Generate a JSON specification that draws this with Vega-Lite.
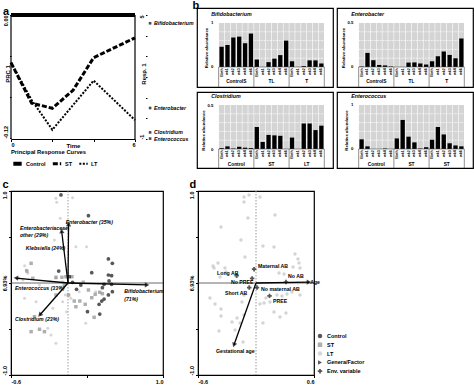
{
"$schema": "https://vega.github.io/schema/vega-lite/v6.json",
"padding": {"left": 1, "top": 0, "right": 0, "bottom": 0},
"config": {
 "font": "Liberation Sans",
 "view": {"stroke": "black", "strokeWidth": 1.2},
 "title": {"fontSize": 11, "fontWeight": "bold", "anchor": "start", "frame": "bounds", "offset": 2, "color": "black"},
 "axis": {"labelFontSize": 5.5, "labelFontWeight": "bold", "titleFontSize": 6, "titleFontWeight": "bold", "labelColor": "black", "titleColor": "black", "tickColor": "black", "domainColor": "black", "tickSize": 2.5, "labelPadding": 1, "grid": false, "labelOverlap": false},
 "legend": {"labelColor": "black", "titleColor": "black"},
 "text": {"color": "black"}
},
"datasets": {
 "prc": [
  {"Time":0,"PRC":0,"Group":"Control"},{"Time":1,"PRC":0,"Group":"Control"},{"Time":2,"PRC":0,"Group":"Control"},{"Time":3,"PRC":0,"Group":"Control"},{"Time":4,"PRC":0,"Group":"Control"},{"Time":6,"PRC":0,"Group":"Control"},
  {"Time":0,"PRC":-0.0465,"Group":"ST"},{"Time":1,"PRC":-0.086,"Group":"ST"},{"Time":2,"PRC":-0.091,"Group":"ST"},{"Time":3,"PRC":-0.0735,"Group":"ST"},{"Time":4,"PRC":-0.0416,"Group":"ST"},{"Time":6,"PRC":-0.0223,"Group":"ST"},
  {"Time":0,"PRC":-0.0465,"Group":"LT"},{"Time":1,"PRC":-0.083,"Group":"LT"},{"Time":2,"PRC":-0.112,"Group":"LT"},{"Time":4,"PRC":-0.064,"Group":"LT"},{"Time":6,"PRC":-0.1026,"Group":"LT"}
 ],
 "resp": [{"Genus":"Bifidobacterium","Resp":4.6},{"Genus":"Enterobacter","Resp":0.5},{"Genus":"Clostridium","Resp":-0.68},{"Genus":"Enterococcus","Resp":-0.98}],
 "bif": [
  {"i":1,"t":"Birth","g":"g1","gl":"ControlS","v":0.46},{"i":2,"t":"wk1","g":"g1","gl":"ControlS","v":0.50},{"i":3,"t":"wk2","g":"g1","gl":"ControlS","v":0.67},{"i":4,"t":"wk3","g":"g1","gl":"ControlS","v":0.69},{"i":5,"t":"wk4","g":"g1","gl":"ControlS","v":0.54},{"i":6,"t":"wk6","g":"g1","gl":"ControlS","v":0.76},
  {"i":7,"t":"Birth","g":"g2","gl":"TL","v":0.17},{"i":8,"t":"wk1","g":"g2","gl":"TL","v":0},{"i":9,"t":"wk2","g":"g2","gl":"TL","v":0.11},{"i":10,"t":"wk3","g":"g2","gl":"TL","v":0.19},{"i":11,"t":"wk4","g":"g2","gl":"TL","v":0.27},{"i":12,"t":"wk6","g":"g2","gl":"TL","v":0.60},
  {"i":13,"t":"Birth","g":"g3","gl":"T","v":0.13},{"i":14,"t":"wk1","g":"g3","gl":"T","v":0},{"i":15,"t":"wk2","g":"g3","gl":"T","v":0.02},{"i":16,"t":"wk3","g":"g3","gl":"T","v":0.15},{"i":17,"t":"wk4","g":"g3","gl":"T","v":0.15},{"i":18,"t":"wk6","g":"g3","gl":"T","v":0.08}
 ],
 "ent": [
  {"i":1,"t":"Birth","g":"g1","gl":"ControlS","v":0.005},{"i":2,"t":"wk1","g":"g1","gl":"ControlS","v":0.16},{"i":3,"t":"wk2","g":"g1","gl":"ControlS","v":0.077},{"i":4,"t":"wk3","g":"g1","gl":"ControlS","v":0.023},{"i":5,"t":"wk4","g":"g1","gl":"ControlS","v":0.018},{"i":6,"t":"wk6","g":"g1","gl":"ControlS","v":0.005},
  {"i":7,"t":"Birth","g":"g2","gl":"TL","v":0},{"i":8,"t":"wk1","g":"g2","gl":"TL","v":0},{"i":9,"t":"wk2","g":"g2","gl":"TL","v":0.05},{"i":10,"t":"wk3","g":"g2","gl":"TL","v":0.052},{"i":11,"t":"wk4","g":"g2","gl":"TL","v":0.04},{"i":12,"t":"wk6","g":"g2","gl":"TL","v":0.028},
  {"i":13,"t":"Birth","g":"g3","gl":"T","v":0.065},{"i":14,"t":"wk1","g":"g3","gl":"T","v":0.122},{"i":15,"t":"wk2","g":"g3","gl":"T","v":0.176},{"i":16,"t":"wk3","g":"g3","gl":"T","v":0.137},{"i":17,"t":"wk4","g":"g3","gl":"T","v":0.099},{"i":18,"t":"wk6","g":"g3","gl":"T","v":0.324}
 ],
 "clo": [
  {"i":1,"t":"Birth","g":"g1","gl":"Control","v":0.01},{"i":2,"t":"wk1","g":"g1","gl":"Control","v":0.03},{"i":3,"t":"wk2","g":"g1","gl":"Control","v":0.005},{"i":4,"t":"wk3","g":"g1","gl":"Control","v":0.025},{"i":5,"t":"wk4","g":"g1","gl":"Control","v":0.015},{"i":6,"t":"wk6","g":"g1","gl":"Control","v":0.01},
  {"i":7,"t":"Birth","g":"g2","gl":"ST","v":0.25},{"i":8,"t":"wk1","g":"g2","gl":"ST","v":0.08},{"i":9,"t":"wk2","g":"g2","gl":"ST","v":0.16},{"i":10,"t":"wk3","g":"g2","gl":"ST","v":0.155},{"i":11,"t":"wk4","g":"g2","gl":"ST","v":0.15},{"i":12,"t":"wk6","g":"g2","gl":"ST","v":0},
  {"i":13,"t":"Birth","g":"g3","gl":"LT","v":0.13},{"i":14,"t":"wk1","g":"g3","gl":"LT","v":0},{"i":15,"t":"wk2","g":"g3","gl":"LT","v":0.29},{"i":16,"t":"wk3","g":"g3","gl":"LT","v":0.29},{"i":17,"t":"wk4","g":"g3","gl":"LT","v":0.215},{"i":18,"t":"wk6","g":"g3","gl":"LT","v":0.265}
 ],
 "enc": [
  {"i":1,"t":"Birth","g":"g1","gl":"Control","v":0.22},{"i":2,"t":"wk1","g":"g1","gl":"Control","v":0.06},{"i":3,"t":"wk2","g":"g1","gl":"Control","v":0},{"i":4,"t":"wk3","g":"g1","gl":"Control","v":0},{"i":5,"t":"wk4","g":"g1","gl":"Control","v":0.01},{"i":6,"t":"wk6","g":"g1","gl":"Control","v":0},
  {"i":7,"t":"Birth","g":"g2","gl":"ST","v":0.24},{"i":8,"t":"wk1","g":"g2","gl":"ST","v":0.66},{"i":9,"t":"wk2","g":"g2","gl":"ST","v":0.28},{"i":10,"t":"wk3","g":"g2","gl":"ST","v":0.15},{"i":11,"t":"wk4","g":"g2","gl":"ST","v":0.01},{"i":12,"t":"wk6","g":"g2","gl":"ST","v":0.04},
  {"i":13,"t":"Birth","g":"g3","gl":"ST","v":0.21},{"i":14,"t":"wk1","g":"g3","gl":"ST","v":0.50},{"i":15,"t":"wk2","g":"g3","gl":"ST","v":0.33},{"i":16,"t":"wk3","g":"g3","gl":"ST","v":0.13},{"i":17,"t":"wk4","g":"g3","gl":"ST","v":0.08},{"i":18,"t":"wk6","g":"g3","gl":"ST","v":0.06}
 ],
 "seps": [{"s":0.5},{"s":6.5},{"s":12.5},{"s":18.5}],
 "grid1": [{"g":0.2},{"g":0.4},{"g":0.6},{"g":0.8}],
 "grid05": [{"g":0.1},{"g":0.2},{"g":0.3},{"g":0.4}],
 "cpts": [
  {"x":-0.127,"y":0.921,"g":"LT"},{"x":0.048,"y":0.927,"g":"LT"},{"x":-0.119,"y":0.877,"g":"LT"},{"x":-0.081,"y":0.703,"g":"LT"},{"x":-0.143,"y":0.467,"g":"LT"},{"x":0.083,"y":0.395,"g":"LT"},{"x":0.195,"y":0.395,"g":"LT"},{"x":-0.457,"y":0.188,"g":"LT"},{"x":-0.44,"y":0.141,"g":"LT"},{"x":-0.423,"y":0.105,"g":"LT"},{"x":-0.517,"y":0.051,"g":"LT"},{"x":-0.475,"y":0.033,"g":"LT"},{"x":-0.457,"y":-0.166,"g":"LT"},{"x":-0.213,"y":-0.492,"g":"LT"},{"x":-0.179,"y":-0.565,"g":"LT"},{"x":-0.127,"y":-0.655,"g":"LT"},{"x":-0.015,"y":-0.312,"g":"LT"},{"x":0.03,"y":-0.166,"g":"LT"},{"x":-0.074,"y":-0.04,"g":"LT"},{"x":-0.056,"y":0.014,"g":"LT"},{"x":0.187,"y":-0.438,"g":"LT"},{"x":-0.127,"y":0.051,"g":"LT"},{"x":-0.028,"y":-0.13,"g":"LT"},{"x":-0.161,"y":-0.275,"g":"LT"},{"x":-0.336,"y":-0.203,"g":"LT"},{"x":-0.056,"y":-0.203,"g":"LT"},{"x":0.118,"y":-0.095,"g":"LT"},{"x":0.292,"y":-0.095,"g":"LT"},{"x":-0.3,"y":-0.022,"g":"LT"},
  {"x":-0.388,"y":0.214,"g":"ST"},{"x":-0.433,"y":0.13,"g":"ST"},{"x":-0.37,"y":0.051,"g":"ST"},{"x":-0.127,"y":0.062,"g":"ST"},{"x":-0.064,"y":0.062,"g":"ST"},{"x":-0.022,"y":0.068,"g":"ST"},{"x":0.041,"y":0.068,"g":"ST"},{"x":0.16,"y":0.008,"g":"ST"},{"x":0.286,"y":-0.123,"g":"ST"},{"x":0.334,"y":-0.101,"g":"ST"},{"x":0.362,"y":-0.116,"g":"ST"},{"x":0.25,"y":-0.16,"g":"ST"},{"x":0.124,"y":-0.196,"g":"ST"},{"x":0.181,"y":-0.232,"g":"ST"},{"x":0.083,"y":-0.258,"g":"ST"},{"x":0.275,"y":-0.373,"g":"ST"},{"x":-0.3,"y":-0.503,"g":"ST"},{"x":-0.248,"y":-0.529,"g":"ST"},{"x":-0.388,"y":-0.529,"g":"ST"},{"x":-0.353,"y":-0.366,"g":"ST"},{"x":-0.127,"y":-0.13,"g":"ST"},{"x":-0.039,"y":-0.022,"g":"ST"},{"x":0.006,"y":-0.13,"g":"ST"},{"x":0.066,"y":-0.196,"g":"ST"},{"x":0.215,"y":-0.076,"g":"ST"},
  {"x":-0.074,"y":0.957,"g":"Control"},{"x":0.215,"y":0.732,"g":"Control"},{"x":-0.098,"y":0.13,"g":"Control"},{"x":0.25,"y":0.112,"g":"Control"},{"x":0.425,"y":0.261,"g":"Control"},{"x":0.467,"y":0.214,"g":"Control"},{"x":0.425,"y":0.087,"g":"Control"},{"x":0.459,"y":0.079,"g":"Control"},{"x":0.432,"y":0.022,"g":"Control"},{"x":0.38,"y":-0.014,"g":"Control"},{"x":0.459,"y":-0.014,"g":"Control"},{"x":0.362,"y":-0.051,"g":"Control"},{"x":0.467,"y":-0.095,"g":"Control"},{"x":0.425,"y":-0.13,"g":"Control"},{"x":0.38,"y":-0.174,"g":"Control"},{"x":0.355,"y":-0.196,"g":"Control"},{"x":0.327,"y":-0.232,"g":"Control"},{"x":0.135,"y":-0.022,"g":"Control"},{"x":0.09,"y":-0.068,"g":"Control"},{"x":0.048,"y":0.008,"g":"Control"},{"x":0.205,"y":-0.312,"g":"Control"},{"x":0.334,"y":-0.337,"g":"Control"},{"x":0.014,"y":0.068,"g":"Control"}
 ],
 "carrows": [{"name":"Bifidobacterium","x":0.833,"y":-0.02},{"name":"Enterobacter","x":0.006,"y":0.64},{"name":"Enterobacteriaceae","x":-0.067,"y":0.565},{"name":"Enterococcus","x":-0.548,"y":0.054},{"name":"Clostridium","x":-0.297,"y":-0.348}],
 "clabels": [{"x":-0.025,"y":0.663,"label":"Enterobacter (35%)"},{"x":-0.506,"y":0.598,"label":"Enterobacteriaceae,"},{"x":-0.506,"y":0.522,"label":"other (29%)"},{"x":-0.444,"y":0.38,"label":"Klebsiella (24%)"},{"x":-0.559,"y":-0.054,"label":"Enterococcus (33%)"},{"x":0.592,"y":-0.087,"label":"Bifidobacterium"},{"x":0.592,"y":-0.174,"label":"(71%)"},{"x":-0.559,"y":-0.391,"label":"Clostridium (23%)"}],
 "dpts": [
  {"x":-0.124,"y":0.935},{"x":-0.124,"y":0.88},{"x":0.041,"y":0.935},{"x":-0.083,"y":0.707},{"x":-0.362,"y":0.609},{"x":0.196,"y":0.739},{"x":-0.155,"y":0.467},{"x":0.072,"y":0.402},{"x":0.186,"y":0.391},{"x":-0.114,"y":0.283},{"x":-0.445,"y":0.185},{"x":-0.434,"y":0.163},{"x":-0.372,"y":0.065},{"x":-0.393,"y":0.217},{"x":0.403,"y":0.315},{"x":0.434,"y":0.261},{"x":0.445,"y":0.217},{"x":0.383,"y":0.174},{"x":0.455,"y":0.163},{"x":0.29,"y":0.098},{"x":-0.321,"y":0.163},{"x":0.238,"y":0.109},{"x":0.434,"y":0.0},{"x":0.414,"y":-0.065},{"x":0.372,"y":-0.098},{"x":0.321,"y":-0.12},{"x":0.269,"y":-0.141},{"x":0.217,"y":-0.13},{"x":0.455,"y":-0.13},{"x":0.103,"y":-0.163},{"x":0.083,"y":-0.217},{"x":0.041,"y":-0.228},{"x":0.145,"y":-0.207},{"x":0.186,"y":-0.315},{"x":0.31,"y":-0.326},{"x":0.248,"y":-0.37},{"x":0.072,"y":-0.435},{"x":-0.124,"y":-0.13},{"x":-0.145,"y":-0.207},{"x":-0.124,"y":-0.348},{"x":-0.196,"y":-0.38},{"x":-0.134,"y":-0.641},{"x":-0.476,"y":-0.163},{"x":-0.424,"y":-0.228},{"x":-0.362,"y":-0.283},{"x":-0.362,"y":-0.359},{"x":-0.248,"y":-0.424},{"x":-0.383,"y":-0.522},{"x":-0.217,"y":-0.511},{"x":-0.165,"y":-0.435},{"x":-0.072,"y":0.957},{"x":-0.31,"y":0.12}
 ],
 "darrows": [{"name":"Gestational age","x":-0.228,"y":-0.674},{"name":"Age","x":0.548,"y":0.01}],
 "denv": [{"name":"Long AB","x":-0.2,"y":0.08,"cat":"Env. variable"},{"name":"Maternal AB","x":-0.02,"y":0.15,"cat":"Env. variable"},{"name":"No PREE","x":-0.04,"y":0.05,"cat":"Env. variable"},{"name":"No AB","x":0.31,"y":0.01,"cat":"Env. variable"},{"name":"Short AB","x":-0.07,"y":-0.05,"cat":"Env. variable"},{"name":"No maternal AB","x":0.01,"y":-0.05,"cat":"Env. variable"},{"name":"PREE","x":0.14,"y":-0.14,"cat":"Env. variable"}],
 "dlabels": [{"x":-0.403,"y":0.109,"label":"Long AB"},{"x":0.021,"y":0.185,"label":"Maternal AB"},{"x":-0.259,"y":0.011,"label":"No PREE"},{"x":0.331,"y":0.076,"label":"No AB"},{"x":-0.321,"y":-0.109,"label":"Short AB"},{"x":0.052,"y":-0.065,"label":"No maternal AB"},{"x":0.176,"y":-0.196,"label":"PREE"},{"x":-0.414,"y":-0.739,"label":"Gestational age"},{"x":0.56,"y":0.011,"label":"Age"}]
},
"vconcat": [
 {"concat": [
  {
   "title": {"text": "a", "offset": -10},
   "width": 124, "height": 131,
   "view": {"stroke": null},
   "resolve": {"scale": {"y": "independent"}},
   "layer": [
    {"layer": [
     {
      "data": {"name": "prc"},
      "mark": {"type": "line", "color": "black"},
      "encoding": {
       "x": {"field": "Time", "type": "quantitative", "scale": {"domain": [0, 6], "nice": false},
             "axis": {"values": [0,1,2,3,4,5,6], "labelExpr": "datum.value == 0 || datum.value == 6 ? datum.label : ''", "title": "Time", "titlePadding": -6, "domainWidth": 1.2}},
       "y": {"field": "PRC", "type": "quantitative", "scale": {"domain": [-0.121, 0.0068], "nice": false, "zero": false},
             "axis": {"values": [0,-0.01,-0.02,-0.03,-0.04,-0.05,-0.06,-0.07,-0.08,-0.09,-0.1,-0.11,-0.12], "labelExpr": "datum.value == 0 ? '0.00' : (datum.value < -0.115 ? '-0.12' : '')", "labelAngle": 270, "labelAlign": {"condition": {"test": "datum.value == 0", "value": "right"}, "value": "left"}, "labelBaseline": "bottom", "title": "PRC 1", "titlePadding": -7, "tickSize": 1.5, "domain": false}},
       "strokeDash": {"field": "Group", "type": "nominal", "scale": {"domain": ["Control","ST","LT"], "range": [[1,0],[5,2],[2,1.5]]},
             "legend": {"orient": "none", "legendX": 0, "legendY": 141, "direction": "horizontal", "gridAlign": "none", "title": "Principal Response Curves", "titleFontSize": 5.8, "titleFontWeight": "bold", "labelFontSize": 5.5, "labelFontWeight": "bold", "symbolType": "stroke", "symbolStrokeColor": "black", "symbolStrokeWidth": 2.5, "symbolSize": 70, "titlePadding": 6, "columnPadding": 5, "labelOffset": 2, "clipHeight": 6}},
       "strokeWidth": {"field": "Group", "type": "nominal", "scale": {"domain": ["Control","ST","LT"], "range": [4,2,1.6]}, "legend": null}
      }
     },
     {"data": {"values": [{"fx": 0}, {"fx": 6}]}, "mark": {"type": "rule", "color": "black", "strokeWidth": 1.2},
      "encoding": {"x": {"field": "fx", "type": "quantitative"}, "y": {"datum": 0, "type": "quantitative"}, "y2": {"datum": -0.121}}}
    ]},
    {
     "data": {"name": "resp"},
     "encoding": {
      "y": {"field": "Resp", "type": "quantitative", "scale": {"domain": [-1, 5.339], "nice": false, "zero": false},
            "axis": {"orient": "left", "offset": -136, "values": [-1,0,1,2,3,4,5], "labelExpr": "datum.value == 5 ? '5' : (datum.value == -1 ? '-1' : '')", "labelAngle": 270, "labelAlign": {"condition": {"test": "datum.value == 5", "value": "right"}, "value": "left"}, "labelBaseline": "bottom", "title": "Resp. 1", "titlePadding": -7, "tickSize": 1.5, "domain": false}}
     },
     "layer": [
      {"data": {"values": [{}]}, "mark": {"type": "rule", "color": "black", "strokeWidth": 1}, "encoding": {"x": {"datum": 6.58, "type": "quantitative"}, "y": {"datum": 5, "type": "quantitative"}, "y2": {"datum": -1}}},
      {"mark": {"type": "point", "shape": "square", "filled": true, "color": "black", "size": 7}, "encoding": {"x": {"datum": 6.73, "type": "quantitative"}}},
      {"mark": {"type": "text", "align": "left", "baseline": "middle", "fontStyle": "italic", "fontWeight": "bold", "fontSize": 5.2}, "encoding": {"x": {"datum": 6.92, "type": "quantitative"}, "text": {"field": "Genus", "type": "nominal"}}}
     ]
    }
   ]
  },
  {
   "title": {"text": "b", "dx": -4, "offset": -4},
   "spacing": 3,
   "vconcat": [
    {"hconcat": [
     {
      "width": 136, "height": 79,
      "data": {"name": "bif"},
      "layer": [
       {"mark": {"type": "bar", "color": "#d4d4d4", "width": 5.3},
        "encoding": {
         "x": {"field": "i", "type": "quantitative", "scale": {"domain": [-2.34, 19.13], "nice": false, "zero": false}, "axis": null},
         "y": {"datum": 0, "type": "quantitative", "scale": {"domain": [-0.455, 1.341], "nice": false, "zero": false},
               "axis": {"values": [0,0.2,0.4,0.6,0.8,1], "format": "~g", "offset": -17, "title": "Relative abundance", "domain": false, "ticks": false, "labelFontSize": 4.3, "titleFontSize": 4.3, "labelPadding": 1, "titlePadding": 2}},
         "y2": {"datum": 1}}},
       {"data": {"name": "grid1"}, "mark": {"type": "rule", "color": "white", "strokeDash": [2,1], "strokeWidth": 0.7},
        "encoding": {"y": {"field": "g", "type": "quantitative"}, "x": {"datum": 0.5, "type": "quantitative", "axis": null}, "x2": {"datum": 18.5}}},
       {"mark": {"type": "bar", "color": "black", "width": 4.3},
        "encoding": {"x": {"field": "i", "type": "quantitative", "axis": null}, "y": {"field": "v", "type": "quantitative"}, "y2": {"datum": 0}}},
       {"data": {"values": [{}]}, "mark": {"type": "rule", "color": "#444", "strokeWidth": 0.6},
        "encoding": {"y": {"datum": 0, "type": "quantitative"}, "x": {"datum": 0.5, "type": "quantitative", "axis": null}, "x2": {"datum": 18.5}}},
       {"data": {"name": "seps"}, "mark": {"type": "rule", "color": "#444", "strokeWidth": 0.6},
        "encoding": {"x": {"field": "s", "type": "quantitative", "axis": null}, "y": {"datum": 0, "type": "quantitative"}, "y2": {"datum": -0.455}}},
       {"mark": {"type": "text", "angle": 270, "align": "right", "baseline": "middle", "fontSize": 3.6, "fontWeight": "bold", "color": "black"},
        "encoding": {"x": {"field": "i", "type": "quantitative", "axis": null}, "y": {"datum": -0.03, "type": "quantitative"}, "text": {"field": "t", "type": "nominal"}}},
       {"mark": {"type": "text", "fontSize": 4.8, "fontWeight": "bold", "color": "black"},
        "encoding": {"x": {"aggregate": "mean", "field": "i", "type": "quantitative", "axis": null}, "y": {"datum": -0.34, "type": "quantitative"}, "text": {"field": "gl", "type": "nominal"}, "detail": {"field": "g", "type": "nominal"}}},
       {"data": {"values": [{}]}, "mark": {"type": "text", "align": "left", "baseline": "middle", "fontSize": 5.3, "fontStyle": "italic", "fontWeight": "bold", "color": "black"},
        "encoding": {"x": {"datum": -0.76, "type": "quantitative", "axis": null}, "y": {"datum": 1.2, "type": "quantitative"}, "text": {"value": "Bifidobacterium"}}}
      ]
     },
     {
      "width": 136, "height": 79,
      "data": {"name": "ent"},
      "layer": [
       {"mark": {"type": "bar", "color": "#d4d4d4", "width": 5.3},
        "encoding": {
         "x": {"field": "i", "type": "quantitative", "scale": {"domain": [-2.34, 19.13], "nice": false, "zero": false}, "axis": null},
         "y": {"datum": 0, "type": "quantitative", "scale": {"domain": [-0.2275, 0.6705], "nice": false, "zero": false},
               "axis": {"values": [0,0.1,0.2,0.3,0.4,0.5], "format": "~g", "offset": -17, "title": "Relative abundance", "domain": false, "ticks": false, "labelFontSize": 4.3, "titleFontSize": 4.3, "labelPadding": 1, "titlePadding": 2}},
         "y2": {"datum": 0.5}}},
       {"data": {"name": "grid05"}, "mark": {"type": "rule", "color": "white", "strokeDash": [2,1], "strokeWidth": 0.7},
        "encoding": {"y": {"field": "g", "type": "quantitative"}, "x": {"datum": 0.5, "type": "quantitative", "axis": null}, "x2": {"datum": 18.5}}},
       {"mark": {"type": "bar", "color": "black", "width": 4.3},
        "encoding": {"x": {"field": "i", "type": "quantitative", "axis": null}, "y": {"field": "v", "type": "quantitative"}, "y2": {"datum": 0}}},
       {"data": {"values": [{}]}, "mark": {"type": "rule", "color": "#444", "strokeWidth": 0.6},
        "encoding": {"y": {"datum": 0, "type": "quantitative"}, "x": {"datum": 0.5, "type": "quantitative", "axis": null}, "x2": {"datum": 18.5}}},
       {"data": {"name": "seps"}, "mark": {"type": "rule", "color": "#444", "strokeWidth": 0.6},
        "encoding": {"x": {"field": "s", "type": "quantitative", "axis": null}, "y": {"datum": 0, "type": "quantitative"}, "y2": {"datum": -0.2275}}},
       {"mark": {"type": "text", "angle": 270, "align": "right", "baseline": "middle", "fontSize": 3.6, "fontWeight": "bold", "color": "black"},
        "encoding": {"x": {"field": "i", "type": "quantitative", "axis": null}, "y": {"datum": -0.015, "type": "quantitative"}, "text": {"field": "t", "type": "nominal"}}},
       {"mark": {"type": "text", "fontSize": 4.8, "fontWeight": "bold", "color": "black"},
        "encoding": {"x": {"aggregate": "mean", "field": "i", "type": "quantitative", "axis": null}, "y": {"datum": -0.17, "type": "quantitative"}, "text": {"field": "gl", "type": "nominal"}, "detail": {"field": "g", "type": "nominal"}}},
       {"data": {"values": [{}]}, "mark": {"type": "text", "align": "left", "baseline": "middle", "fontSize": 5.3, "fontStyle": "italic", "fontWeight": "bold", "color": "black"},
        "encoding": {"x": {"datum": -0.76, "type": "quantitative", "axis": null}, "y": {"datum": 0.6, "type": "quantitative"}, "text": {"value": "Enterobacter"}}}
      ]
     }
    ], "spacing": 2},
    {"hconcat": [
     {
      "width": 136, "height": 76,
      "data": {"name": "clo"},
      "layer": [
       {"mark": {"type": "bar", "color": "#d4d4d4", "width": 5.3},
        "encoding": {
         "x": {"field": "i", "type": "quantitative", "scale": {"domain": [-2.34, 19.13], "nice": false, "zero": false}, "axis": null},
         "y": {"datum": 0, "type": "quantitative", "scale": {"domain": [-0.216, 0.648], "nice": false, "zero": false},
               "axis": {"values": [0,0.1,0.2,0.3,0.4,0.5], "format": "~g", "offset": -17, "title": "Relative abundance", "domain": false, "ticks": false, "labelFontSize": 4.3, "titleFontSize": 4.3, "labelPadding": 1, "titlePadding": 2}},
         "y2": {"datum": 0.5}}},
       {"data": {"name": "grid05"}, "mark": {"type": "rule", "color": "white", "strokeDash": [2,1], "strokeWidth": 0.7},
        "encoding": {"y": {"field": "g", "type": "quantitative"}, "x": {"datum": 0.5, "type": "quantitative", "axis": null}, "x2": {"datum": 18.5}}},
       {"mark": {"type": "bar", "color": "black", "width": 4.3},
        "encoding": {"x": {"field": "i", "type": "quantitative", "axis": null}, "y": {"field": "v", "type": "quantitative"}, "y2": {"datum": 0}}},
       {"data": {"values": [{}]}, "mark": {"type": "rule", "color": "#444", "strokeWidth": 0.6},
        "encoding": {"y": {"datum": 0, "type": "quantitative"}, "x": {"datum": 0.5, "type": "quantitative", "axis": null}, "x2": {"datum": 18.5}}},
       {"data": {"name": "seps"}, "mark": {"type": "rule", "color": "#444", "strokeWidth": 0.6},
        "encoding": {"x": {"field": "s", "type": "quantitative", "axis": null}, "y": {"datum": 0, "type": "quantitative"}, "y2": {"datum": -0.216}}},
       {"mark": {"type": "text", "angle": 270, "align": "right", "baseline": "middle", "fontSize": 3.6, "fontWeight": "bold", "color": "black"},
        "encoding": {"x": {"field": "i", "type": "quantitative", "axis": null}, "y": {"datum": -0.015, "type": "quantitative"}, "text": {"field": "t", "type": "nominal"}}},
       {"mark": {"type": "text", "fontSize": 4.8, "fontWeight": "bold", "color": "black"},
        "encoding": {"x": {"aggregate": "mean", "field": "i", "type": "quantitative", "axis": null}, "y": {"datum": -0.178, "type": "quantitative"}, "text": {"field": "gl", "type": "nominal"}, "detail": {"field": "g", "type": "nominal"}}},
       {"data": {"values": [{}]}, "mark": {"type": "text", "align": "left", "baseline": "middle", "fontSize": 5.3, "fontStyle": "italic", "fontWeight": "bold", "color": "black"},
        "encoding": {"x": {"datum": -0.76, "type": "quantitative", "axis": null}, "y": {"datum": 0.6, "type": "quantitative"}, "text": {"value": "Clostridium"}}}
      ]
     },
     {
      "width": 136, "height": 76,
      "data": {"name": "enc"},
      "layer": [
       {"mark": {"type": "bar", "color": "#d4d4d4", "width": 5.3},
        "encoding": {
         "x": {"field": "i", "type": "quantitative", "scale": {"domain": [-2.34, 19.13], "nice": false, "zero": false}, "axis": null},
         "y": {"datum": 0, "type": "quantitative", "scale": {"domain": [-0.432, 1.295], "nice": false, "zero": false},
               "axis": {"values": [0,0.2,0.4,0.6,0.8,1], "format": "~g", "offset": -17, "title": "Relative abundance", "domain": false, "ticks": false, "labelFontSize": 4.3, "titleFontSize": 4.3, "labelPadding": 1, "titlePadding": 2}},
         "y2": {"datum": 1}}},
       {"data": {"name": "grid1"}, "mark": {"type": "rule", "color": "white", "strokeDash": [2,1], "strokeWidth": 0.7},
        "encoding": {"y": {"field": "g", "type": "quantitative"}, "x": {"datum": 0.5, "type": "quantitative", "axis": null}, "x2": {"datum": 18.5}}},
       {"mark": {"type": "bar", "color": "black", "width": 4.3},
        "encoding": {"x": {"field": "i", "type": "quantitative", "axis": null}, "y": {"field": "v", "type": "quantitative"}, "y2": {"datum": 0}}},
       {"data": {"values": [{}]}, "mark": {"type": "rule", "color": "#444", "strokeWidth": 0.6},
        "encoding": {"y": {"datum": 0, "type": "quantitative"}, "x": {"datum": 0.5, "type": "quantitative", "axis": null}, "x2": {"datum": 18.5}}},
       {"data": {"name": "seps"}, "mark": {"type": "rule", "color": "#444", "strokeWidth": 0.6},
        "encoding": {"x": {"field": "s", "type": "quantitative", "axis": null}, "y": {"datum": 0, "type": "quantitative"}, "y2": {"datum": -0.432}}},
       {"mark": {"type": "text", "angle": 270, "align": "right", "baseline": "middle", "fontSize": 3.6, "fontWeight": "bold", "color": "black"},
        "encoding": {"x": {"field": "i", "type": "quantitative", "axis": null}, "y": {"datum": -0.03, "type": "quantitative"}, "text": {"field": "t", "type": "nominal"}}},
       {"mark": {"type": "text", "fontSize": 4.8, "fontWeight": "bold", "color": "black"},
        "encoding": {"x": {"aggregate": "mean", "field": "i", "type": "quantitative", "axis": null}, "y": {"datum": -0.356, "type": "quantitative"}, "text": {"field": "gl", "type": "nominal"}, "detail": {"field": "g", "type": "nominal"}}},
       {"data": {"values": [{}]}, "mark": {"type": "text", "align": "left", "baseline": "middle", "fontSize": 5.3, "fontStyle": "italic", "fontWeight": "bold", "color": "black"},
        "encoding": {"x": {"datum": -0.76, "type": "quantitative", "axis": null}, "y": {"datum": 1.2, "type": "quantitative"}, "text": {"value": "Enterococcus"}}}
      ]
     }
    ], "spacing": 2}
   ]
  }
 ], "columns": 2, "align": "none", "spacing": -2},
 {"hconcat": [
  {
   "title": {"text": "c", "offset": 1},
   "width": 152, "height": 184,
   "layer": [
    {"data": {"values": [{}]}, "mark": {"type": "rule", "color": "#444", "strokeWidth": 0.8},
     "encoding": {"y": {"datum": 0, "type": "quantitative"}}},
    {"data": {"values": [{}]}, "mark": {"type": "rule", "color": "#888", "strokeWidth": 0.8, "strokeDash": [1.5,1.5]},
     "encoding": {"x": {"datum": 0, "type": "quantitative"}}},
    {"data": {"name": "cpts"}, "transform": [{"filter": "datum.g == 'LT'"}],
     "mark": {"type": "point", "shape": "circle", "filled": true, "color": "#c4c4c4", "size": 9},
     "encoding": {
      "x": {"field": "x", "type": "quantitative", "scale": {"domain": [-0.6, 1.0], "nice": false, "zero": false},
            "axis": {"values": [-0.6,-0.4,-0.2,0,0.2,0.4,0.6,0.8,1.0], "labelExpr": "abs(datum.value+0.6)<0.01 ? '-0.6' : (abs(datum.value)<0.01 ? '26.22%' : (abs(datum.value-1)<0.01 ? '1.0' : ''))", "title": null, "labelFlush": true, "labelPadding": 2}},
      "y": {"field": "y", "type": "quantitative", "scale": {"domain": [-1, 1], "nice": false, "zero": false},
            "axis": {"values": [-1,-0.5,0,0.5,1], "labelExpr": "datum.value > 0.9 ? '1.0' : (datum.value < -0.9 ? '-1.0' : (abs(datum.value) < 0.01 ? '6.93%' : ''))", "labelAngle": 270, "labelAlign": {"condition": [{"test": "datum.value > 0.9", "value": "right"}, {"test": "datum.value < -0.9", "value": "left"}], "value": "center"}, "labelBaseline": "bottom", "title": null}}
     }},
    {"data": {"name": "cpts"}, "transform": [{"filter": "datum.g == 'ST'"}],
     "mark": {"type": "point", "shape": "square", "filled": true, "color": "#8c8c8c", "size": 12},
     "encoding": {"x": {"field": "x", "type": "quantitative"}, "y": {"field": "y", "type": "quantitative"}}},
    {"data": {"name": "cpts"}, "transform": [{"filter": "datum.g == 'Control'"}],
     "mark": {"type": "point", "shape": "circle", "filled": true, "color": "#111", "size": 14},
     "encoding": {"x": {"field": "x", "type": "quantitative"}, "y": {"field": "y", "type": "quantitative"}}},
    {"data": {"name": "carrows"}, "mark": {"type": "rule", "color": "black", "strokeWidth": 1.3},
     "encoding": {"x": {"field": "x", "type": "quantitative"}, "y": {"field": "y", "type": "quantitative"}, "x2": {"datum": 0}, "y2": {"datum": 0}}},
    {"data": {"name": "carrows"}, "transform": [{"filter": "datum.name == 'Bifidobacterium'"}], "mark": {"type": "point", "shape": "triangle-right", "filled": true, "color": "black", "size": 28, "angle": 1},
     "encoding": {"x": {"field": "x", "type": "quantitative"}, "y": {"field": "y", "type": "quantitative"}}},
    {"data": {"name": "carrows"}, "transform": [{"filter": "datum.name == 'Enterobacter'"}], "mark": {"type": "point", "shape": "triangle-right", "filled": true, "color": "black", "size": 28, "angle": 271},
     "encoding": {"x": {"field": "x", "type": "quantitative"}, "y": {"field": "y", "type": "quantitative"}}},
    {"data": {"name": "carrows"}, "transform": [{"filter": "datum.name == 'Enterobacteriaceae'"}], "mark": {"type": "point", "shape": "triangle-right", "filled": true, "color": "black", "size": 28, "angle": 263},
     "encoding": {"x": {"field": "x", "type": "quantitative"}, "y": {"field": "y", "type": "quantitative"}}},
    {"data": {"name": "carrows"}, "transform": [{"filter": "datum.name == 'Enterococcus'"}], "mark": {"type": "point", "shape": "triangle-right", "filled": true, "color": "black", "size": 28, "angle": 185},
     "encoding": {"x": {"field": "x", "type": "quantitative"}, "y": {"field": "y", "type": "quantitative"}}},
    {"data": {"name": "carrows"}, "transform": [{"filter": "datum.name == 'Clostridium'"}], "mark": {"type": "point", "shape": "triangle-right", "filled": true, "color": "black", "size": 28, "angle": 132},
     "encoding": {"x": {"field": "x", "type": "quantitative"}, "y": {"field": "y", "type": "quantitative"}}},
    {"data": {"name": "clabels"}, "mark": {"type": "text", "align": "left", "baseline": "middle", "fontSize": 5.2, "fontStyle": "italic", "fontWeight": "bold", "color": "black"},
     "encoding": {"x": {"field": "x", "type": "quantitative"}, "y": {"field": "y", "type": "quantitative"}, "text": {"field": "label", "type": "nominal"}}}
   ]
  },
  {
   "title": {"text": "d", "offset": 1},
   "width": 116, "height": 184,
   "layer": [
    {"data": {"values": [{}]}, "mark": {"type": "rule", "color": "#444", "strokeWidth": 0.8},
     "encoding": {"y": {"datum": 0, "type": "quantitative"}}},
    {"data": {"values": [{}]}, "mark": {"type": "rule", "color": "#999", "strokeWidth": 1, "strokeDash": [1.5,1.5]},
     "encoding": {"x": {"datum": 0, "type": "quantitative"}}},
    {"data": {"name": "dpts"},
     "mark": {"type": "point", "shape": "circle", "filled": true, "color": "#c2c2c2", "size": 12},
     "encoding": {
      "x": {"field": "x", "type": "quantitative", "scale": {"domain": [-0.6, 0.6], "nice": false, "zero": false},
            "axis": {"values": [-0.6,-0.4,-0.2,0,0.2,0.4,0.6], "labelExpr": "abs(datum.value+0.6)<0.01 ? '-0.6' : (abs(datum.value)<0.01 ? '26.22%' : (abs(datum.value-0.6)<0.01 ? '0.6' : ''))", "title": null, "labelFlush": true, "labelPadding": 2}},
      "y": {"field": "y", "type": "quantitative", "scale": {"domain": [-1, 1], "nice": false, "zero": false},
            "axis": {"values": [-1,-0.5,0,0.5,1], "labelExpr": "datum.value > 0.9 ? '1.0' : (datum.value < -0.9 ? '-1.0' : (abs(datum.value) < 0.01 ? '6.93%' : ''))", "labelAngle": 270, "labelAlign": {"condition": [{"test": "datum.value > 0.9", "value": "right"}, {"test": "datum.value < -0.9", "value": "left"}], "value": "center"}, "labelBaseline": "bottom", "title": null}}
     }},
    {"data": {"name": "darrows"}, "mark": {"type": "rule", "color": "black", "strokeWidth": 1.3},
     "encoding": {"x": {"field": "x", "type": "quantitative"}, "y": {"field": "y", "type": "quantitative"}, "x2": {"datum": 0}, "y2": {"datum": 0}}},
    {"data": {"name": "darrows"}, "transform": [{"filter": "datum.name == 'Gestational age'"}], "mark": {"type": "point", "shape": "triangle-right", "filled": true, "color": "black", "size": 28, "angle": 110},
     "encoding": {"x": {"field": "x", "type": "quantitative"}, "y": {"field": "y", "type": "quantitative"}}},
    {"data": {"name": "darrows"}, "transform": [{"filter": "datum.name == 'Age'"}], "mark": {"type": "point", "shape": "triangle-right", "filled": true, "color": "black", "size": 28, "angle": 359},
     "encoding": {"x": {"field": "x", "type": "quantitative"}, "y": {"field": "y", "type": "quantitative"}}},
    {"data": {"name": "denv"}, "mark": {"type": "point", "filled": true, "size": 20},
     "encoding": {
      "x": {"field": "x", "type": "quantitative"},
      "y": {"field": "y", "type": "quantitative"},
      "color": {"field": "cat", "type": "nominal", "scale": {"domain": ["Control","ST","LT","Genera/Factor","Env. variable"], "range": ["#111111","#8c8c8c","#c4c4c4","#111111","#111111"]},
                "legend": {"title": null, "orient": "none", "legendX": 306, "legendY": 325, "labelFontSize": 5.5, "labelFontWeight": "bold", "symbolSize": 20, "rowPadding": 1.8, "labelOffset": 4, "clipHeight": 6}},
      "shape": {"field": "cat", "type": "nominal", "scale": {"domain": ["Control","ST","LT","Genera/Factor","Env. variable"], "range": ["circle","square","circle","triangle-right","cross"]},
                "legend": {"title": null, "orient": "none", "legendX": 306, "legendY": 325, "labelFontSize": 5.5, "labelFontWeight": "bold", "symbolSize": 20, "rowPadding": 1.8, "labelOffset": 4, "clipHeight": 6}}
     }},
    {"data": {"name": "dlabels"}, "mark": {"type": "text", "align": "left", "baseline": "middle", "fontSize": 5.2, "fontWeight": "bold", "color": "black"},
     "encoding": {"x": {"field": "x", "type": "quantitative"}, "y": {"field": "y", "type": "quantitative"}, "text": {"field": "label", "type": "nominal"}}}
   ]
  }
 ], "spacing": 23}
],
"spacing": 8
}
